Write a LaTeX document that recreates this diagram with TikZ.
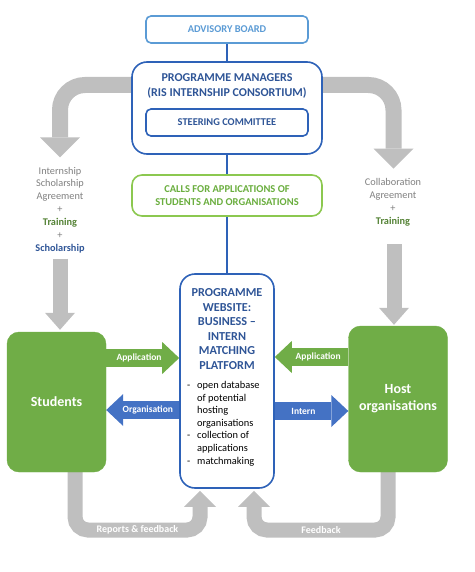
\documentclass[tikz,border=0pt]{standalone}
\usepackage{fontspec}
\setmainfont{Carlito}
\usetikzlibrary{positioning,arrows.meta,backgrounds}
\definecolor{lightblue}{HTML}{5B9BD5}
\definecolor{boxblue}{HTML}{2E62B8}
\definecolor{titleblue}{HTML}{2F5597}
\definecolor{callgreen}{HTML}{8CC850}
\definecolor{calltext}{HTML}{6AAE3E}
\definecolor{boxgreen}{HTML}{70AD47}
\definecolor{darkgreen}{HTML}{548235}
\definecolor{arrowblue}{HTML}{4472C4}
\definecolor{flowgrey}{HTML}{BFBFBF}
\definecolor{textgrey}{HTML}{808080}
\newcommand{\dashitem}{\makebox[10pt][l]{-}}
\newcommand{\dashcont}{\hspace*{10pt}}
\begin{document}
\begin{tikzpicture}[x=1pt,y=-1pt,
    every node/.style={font=\fontsize{10.4}{12.6}\selectfont},
    bluebox/.style={rectangle,rounded corners=15pt,draw=boxblue,line width=1.6pt,fill=white},
    smallbox/.style={rectangle,rounded corners=5pt,line width=1.6pt,fill=white,
                     minimum width=162pt,minimum height=27pt,font=\fontsize{10.4}{12.6}\selectfont\bfseries},
    groupbox/.style={rectangle,rounded corners=12pt,fill=boxgreen,draw=boxgreen,text=white,
                     align=center,font=\fontsize{14}{17}\selectfont\bfseries},
    sidetext/.style={align=center,text=textgrey,font=\fontsize{10.3}{12.9}\selectfont},
    link/.style={draw=boxblue,line width=1.6pt},
    flow/.style={draw=flowgrey,line width=16pt,rounded corners=25pt,
                 -{Triangle[length=20pt,width=40pt,line width=0pt]}},
    flowdown/.style={draw=flowgrey,line width=15pt,
                     -{Triangle[length=17pt,width=30pt,line width=0pt]}},
    flowback/.style={draw=flowgrey,line width=15pt,rounded corners=13pt,
                     -{Triangle[length=16pt,width=32pt,line width=0pt]}},
    greenarrow/.style={draw=boxgreen,line width=17.5pt,
                       -{Triangle[length=17pt,width=32pt,line width=0pt]}},
    bluearrow/.style={draw=arrowblue,line width=17.5pt,
                      -{Triangle[length=17pt,width=32pt,line width=0pt]}},
    arrowlabel/.style={text=white,font=\fontsize{9.5}{11}\selectfont\bfseries}
]
\useasboundingbox (0,0) rectangle (474,572);

% governance
\node[smallbox,draw=lightblue,text=lightblue] (adv) at (227,29.5) {ADVISORY BOARD};
\node[bluebox,minimum width=190pt,minimum height=92pt] (mgr) at (227,108) {};
\node[align=center,text=titleblue,font=\fontsize{12}{14.4}\selectfont\bfseries] (mgrt) at (227,86)
    {PROGRAMME MANAGERS\\(RIS INTERNSHIP CONSORTIUM)};
\node[smallbox,draw=boxblue,text=titleblue] (steer) at (227,122.5) {STEERING COMMITTEE};
\node[rectangle,rounded corners=10pt,draw=callgreen,line width=1.6pt,fill=white,
      minimum width=190pt,minimum height=41pt,align=center,text=calltext,
      font=\fontsize{10.5}{13}\selectfont\bfseries] (calls) at (227,195.5)
    {CALLS FOR APPLICATIONS OF\\STUDENTS AND ORGANISATIONS};

% platform
\node[bluebox,minimum width=94pt,minimum height=214pt] (web) at (227,381) {};
\node[align=center,text=titleblue,font=\fontsize{12.2}{14.6}\selectfont\bfseries] (webt) at (227,329)
    {PROGRAMME\\WEBSITE:\\BUSINESS --\\INTERN\\MATCHING\\PLATFORM};
\node[align=left,inner sep=0pt,anchor=north west] (webl) at (187,381)
    {\dashitem open database\\\dashcont of potential\\\dashcont hosting\\\dashcont organisations\\
     \dashitem collection of\\\dashcont applications\\\dashitem matchmaking};

% participants
\node[groupbox,minimum width=99pt,minimum height=140pt] (stud) at (56.5,402) {Students};
\node[groupbox,minimum width=99pt,minimum height=146pt] (host) at (398,399) {Host\\organisations};
\node[sidetext] (agreeL) at (60,210)
    {Internship\\Scholarship\\Agreement\\+\\\textbf{\textcolor{darkgreen}{Training}}\\+\\\textbf{\textcolor{titleblue}{Scholarship}}};
\node[sidetext] (agreeR) at (393,202)
    {Collaboration\\Agreement\\+\\\textbf{\textcolor{darkgreen}{Training}}};

\begin{scope}[on background layer]
\draw[link] (adv) -- (mgr);
\draw[link] (mgr) -- (calls);
\draw[link] (calls) -- (web);
\draw[flow] (mgr.west |- 0,85) -| ([yshift=6pt]agreeL.north);
\draw[flow] (mgr.east |- 0,85) -| ([yshift=6pt,xshift=0.5pt]agreeR.north);
\draw[flowdown] ([yshift=-2pt]agreeL.south) -- ([yshift=2pt]stud.north -| agreeL);
\draw[flowdown] (394,244) -- ([yshift=1pt]host.north -| 394,0);
\draw[greenarrow] (stud.east |- 0,358) -- node[pos=0.45,arrowlabel] {Application} (web.west |- 0,358);
\draw[bluearrow] (web.west |- 0,410) -- node[pos=0.43,arrowlabel] {Organisation} (stud.east |- 0,410);
\draw[greenarrow] (host.west |- 0,357) -- node[pos=0.41,arrowlabel] {Application} (web.east |- 0,357);
\draw[bluearrow] (web.east |- 0,411) -- node[pos=0.39,arrowlabel] {Intern} (host.west |- 0,411);
\draw[flowback] ([xshift=18.5pt]stud.south) |- node[pos=0.75,arrowlabel,font=\fontsize{10}{12}\selectfont\bfseries] {Reports \& feedback}
    ([xshift=-27pt]web.south |- 0,530) -- ([xshift=-27pt,yshift=-2pt]web.south);
\draw[flowback] ([xshift=-10pt]host.south) |- node[pos=0.75,arrowlabel,font=\fontsize{10}{12}\selectfont\bfseries] {Feedback}
    ([xshift=27pt]web.south |- 0,530) -- ([xshift=27pt,yshift=-2pt]web.south);
\end{scope}
\end{tikzpicture}
\end{document}
